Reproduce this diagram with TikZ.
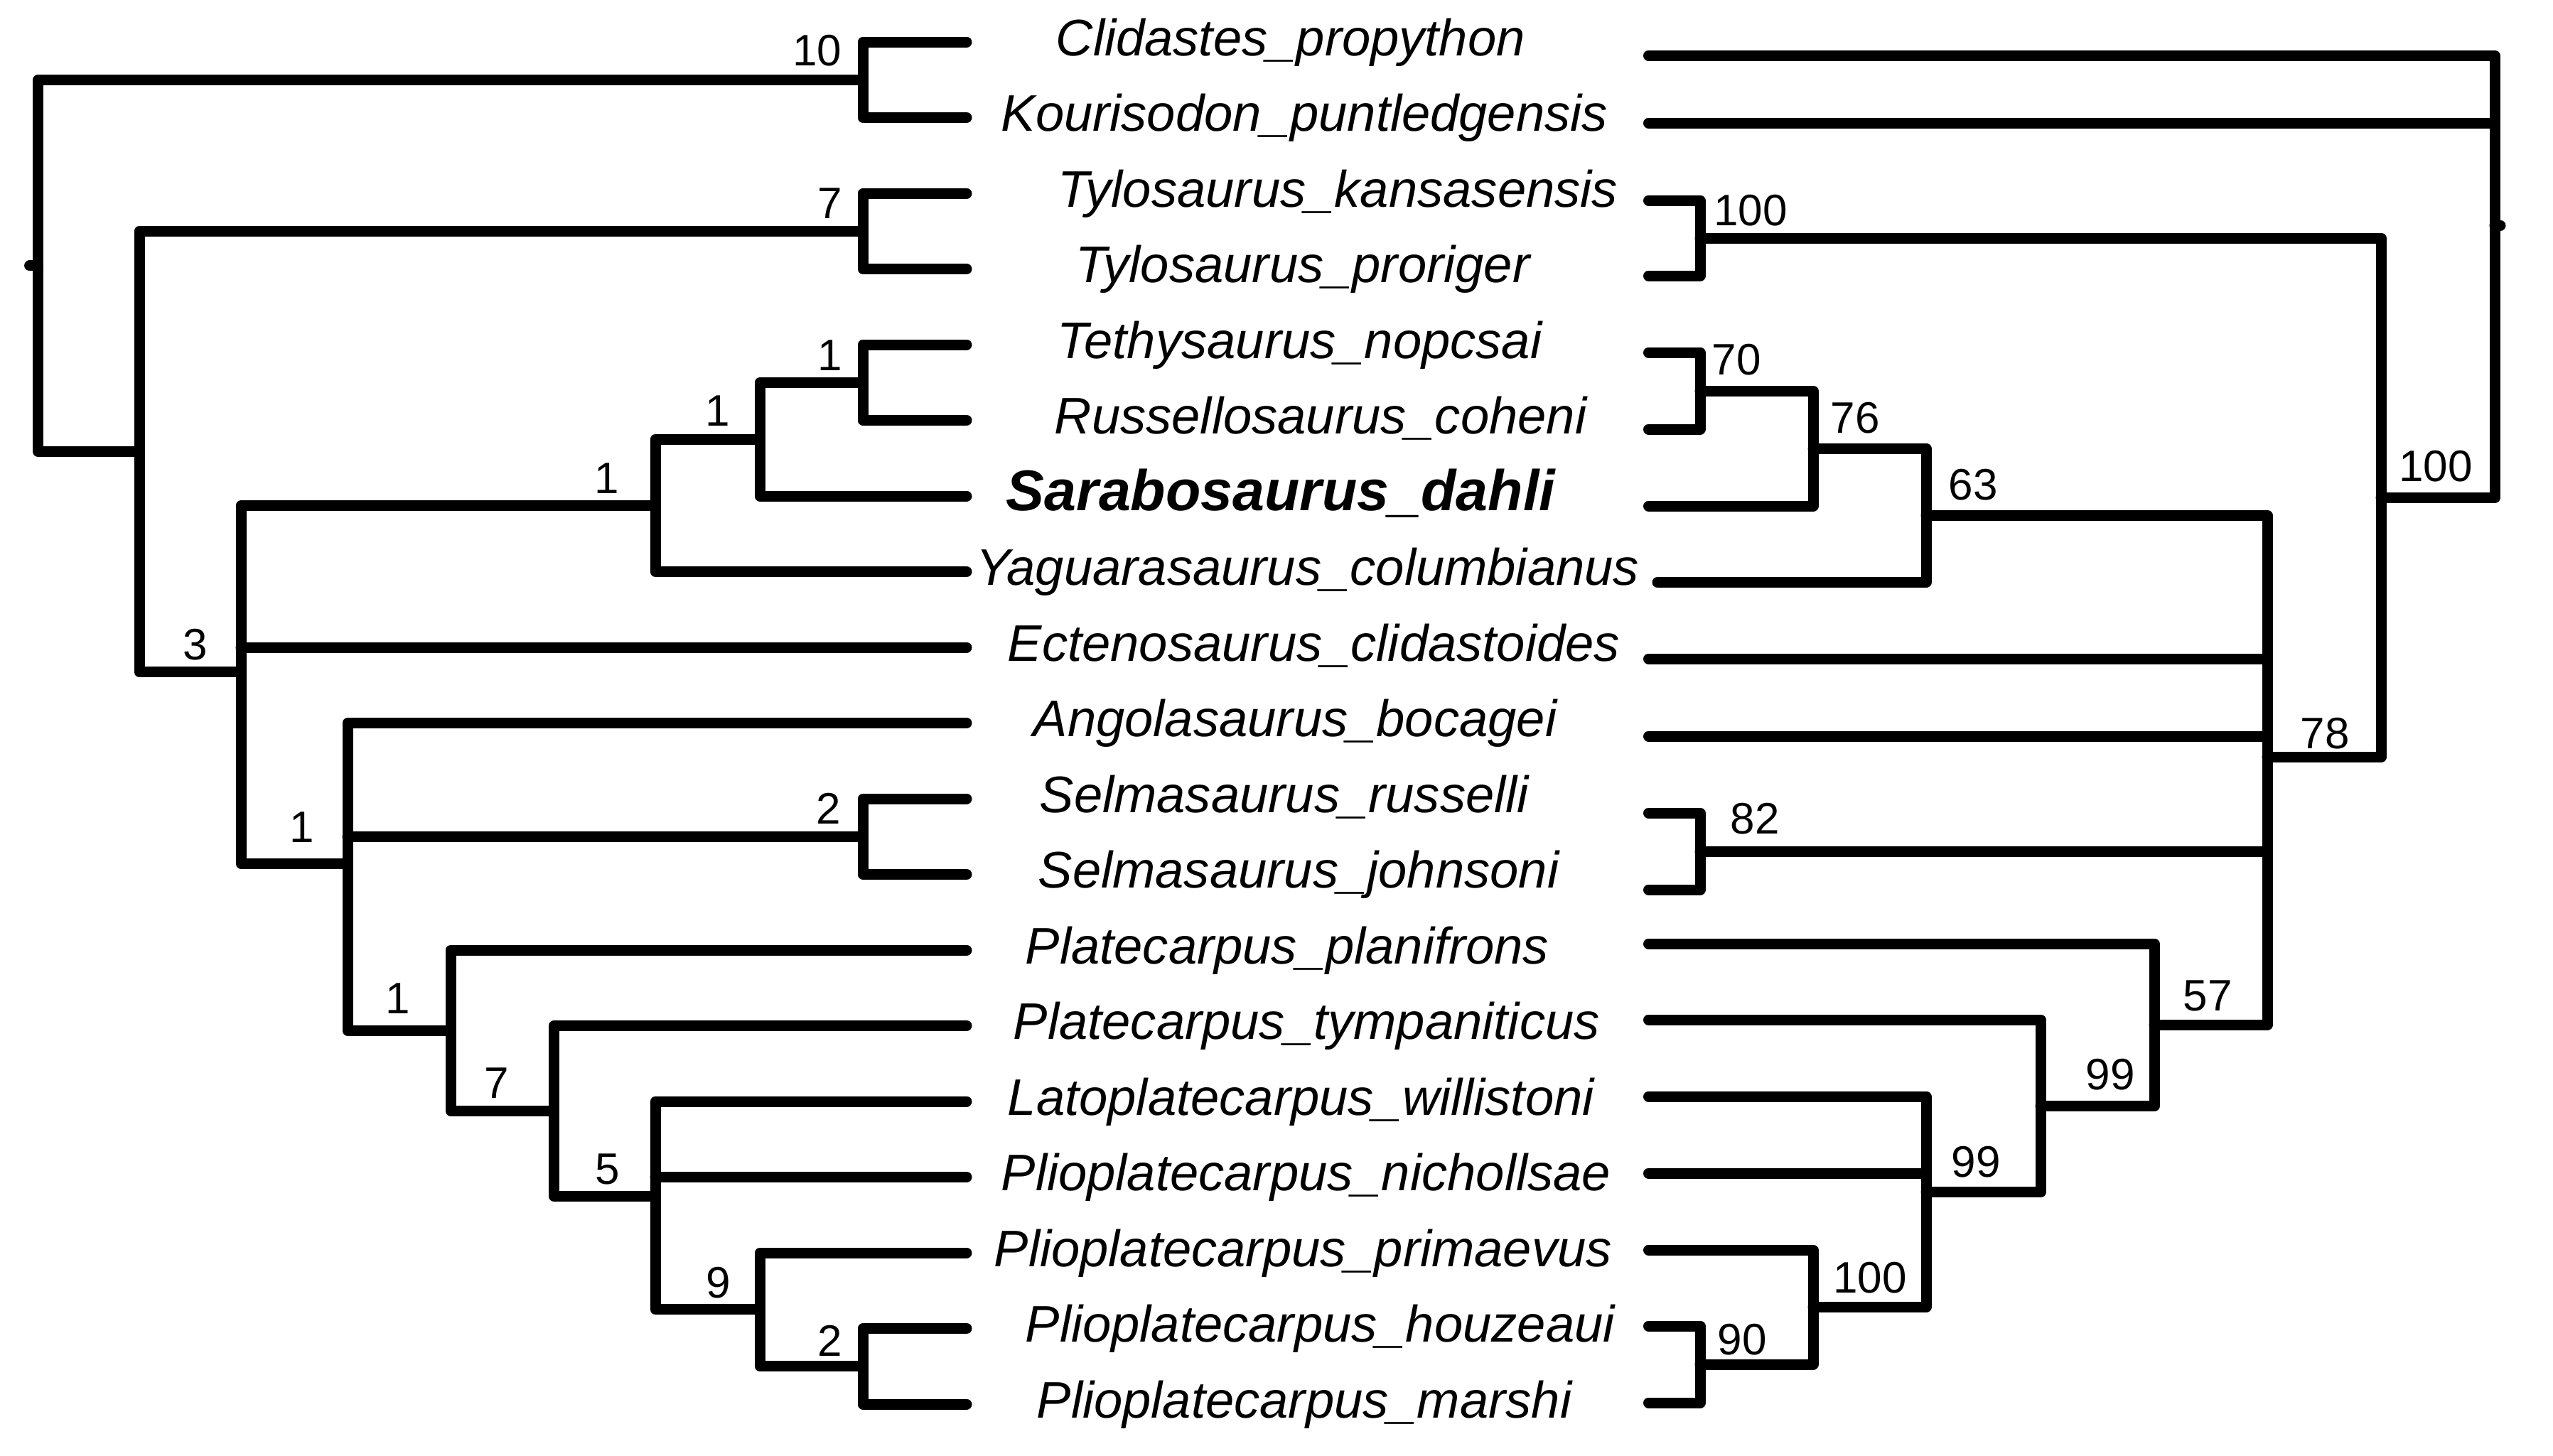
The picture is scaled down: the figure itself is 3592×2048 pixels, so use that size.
\documentclass[tikz,border=0pt]{standalone}
\usepackage{fontspec}
\setmainfont{Liberation Sans}

\begin{document}
\begin{tikzpicture}[x=0.25pt,y=-0.25pt,
	branch/.style={line width=3.75pt, line cap=round, line join=round},
	taxon/.style={anchor=base west, inner sep=0pt, font=\fontsize{18.1}{20}\selectfont\itshape},
	taxbold/.style={taxon, font=\fontsize{20.2}{22}\selectfont\bfseries\itshape},
	supp/.style={inner sep=0pt, font=\fontsize{15.5}{17}\selectfont}]
	\useasboundingbox (0,0) rectangle (3592,2048);

	\node[taxon] (nClid) at (1485,78) {Clidastes\_propython};
	\node[taxon] (nKour) at (1408,184.5) {Kourisodon\_puntledgensis};
	\node[taxon] (nTkans) at (1488,291) {Tylosaurus\_kansasensis};
	\node[taxon] (nTpror) at (1513,397.5) {Tylosaurus\_proriger};
	\node[taxon] (nTeth) at (1487,504) {Tethysaurus\_nopcsai};
	\node[taxon] (nRuss) at (1483,610.5) {Russellosaurus\_coheni};
	\node[taxbold] (nSarabo) at (1415,718) {Sarabosaurus\_dahli};
	\node[taxon] (nYagua) at (1373,823.5) {Yaguarasaurus\_columbianus};
	\node[taxon] (nEcten) at (1417,930) {Ectenosaurus\_clidastoides};
	\node[taxon] (nAngola) at (1453,1036.5) {Angolasaurus\_bocagei};
	\node[taxon] (nSelr) at (1462,1143) {Selmasaurus\_russelli};
	\node[taxon] (nSelj) at (1460,1249.5) {Selmasaurus\_johnsoni};
	\node[taxon] (nPlan) at (1442,1356) {Platecarpus\_planifrons};
	\node[taxon] (nTymp) at (1425,1462.5) {Platecarpus\_tympaniticus};
	\node[taxon] (nLato) at (1417,1569) {Latoplatecarpus\_willistoni};
	\node[taxon] (nNich) at (1408,1675.5) {Plioplatecarpus\_nichollsae};
	\node[taxon] (nPrim) at (1398,1782) {Plioplatecarpus\_primaevus};
	\node[taxon] (nHouz) at (1442,1888.5) {Plioplatecarpus\_houzeaui};
	\node[taxon] (nMarsh) at (1458,1995) {Plioplatecarpus\_marshi};

	\coordinate (lClid) at (1360,59);
	\coordinate (lKour) at (1360,165.5);
	\coordinate (lTkans) at (1360,272);
	\coordinate (lTpror) at (1360,378.5);
	\coordinate (lTeth) at (1360,485);
	\coordinate (lRuss) at (1360,591.5);
	\coordinate (lSarabo) at (1360,698);
	\coordinate (lYagua) at (1360,804.5);
	\coordinate (lEcten) at (1360,911);
	\coordinate (lAngola) at (1360,1017.5);
	\coordinate (lSelr) at (1360,1124);
	\coordinate (lSelj) at (1360,1230.5);
	\coordinate (lPlan) at (1360,1337);
	\coordinate (lTymp) at (1360,1443.5);
	\coordinate (lLato) at (1360,1550);
	\coordinate (lNich) at (1360,1656.5);
	\coordinate (lPrim) at (1360,1763);
	\coordinate (lHouz) at (1360,1869.5);
	\coordinate (lMarsh) at (1360,1976);

	\coordinate (lA) at (1214,112.25);
	\coordinate (lTy) at (1214,325.25);
	\coordinate (lG) at (1214,538.25);
	\coordinate (lF) at (1069,618.1);
	\coordinate (lD) at (922,711.3);
	\coordinate (lS) at (1214,1177.25);
	\coordinate (lL) at (1214,1922.75);
	\coordinate (lK) at (1069,1842.9);
	\coordinate (lJ) at (922,1683.1);
	\coordinate (lI) at (779,1563.3);
	\coordinate (lH) at (634,1450.2);
	\coordinate (lE) at (489,1215);
	\coordinate (lC) at (339,945.8);
	\coordinate (lB) at (196,635.5);
	\coordinate (lR) at (53.6,373.9);

	\draw[branch] (lClid) -| (lA) |- (lKour);
	\draw[branch] (lA) -| (lR) |- (lB);
	\draw[branch] (lR) -- ++(-12,0);
	\draw[branch] (lTkans) -| (lTy) |- (lTpror);
	\draw[branch] (lTy) -| (lB) |- (lC);
	\draw[branch] (lD) -| (lC) |- (lE);
	\draw[branch] (lC |- lEcten) -- (lEcten);
	\draw[branch] (lF) -| (lD) |- (lYagua);
	\draw[branch] (lG) -| (lF) |- (lSarabo);
	\draw[branch] (lTeth) -| (lG) |- (lRuss);
	\draw[branch] (lAngola) -| (lE) |- (lH);
	\draw[branch] (lE |- lS) -- (lS);
	\draw[branch] (lSelr) -| (lS) |- (lSelj);
	\draw[branch] (lPlan) -| (lH) |- (lI);
	\draw[branch] (lTymp) -| (lI) |- (lJ);
	\draw[branch] (lLato) -| (lJ) |- (lK);
	\draw[branch] (lJ |- lNich) -- (lNich);
	\draw[branch] (lPrim) -| (lK) |- (lL);
	\draw[branch] (lHouz) -| (lL) |- (lMarsh);

	\coordinate (rClid) at (2319.5,78);
	\coordinate (rKour) at (2319.5,173);
	\coordinate (rTkans) at (2319.5,282);
	\coordinate (rTpror) at (2319.5,388);
	\coordinate (rTeth) at (2319.5,496);
	\coordinate (rRuss) at (2319.5,604);
	\coordinate (rSarabo) at (2319.5,712);
	\coordinate (rYagua) at (2332,819.5);
	\coordinate (rEcten) at (2319.5,927);
	\coordinate (rAngola) at (2319.5,1036);
	\coordinate (rSelr) at (2319.5,1144);
	\coordinate (rSelj) at (2319.5,1252);
	\coordinate (rPlan) at (2319.5,1328);
	\coordinate (rTymp) at (2319.5,1435);
	\coordinate (rLato) at (2319.5,1543);
	\coordinate (rNich) at (2319.5,1651);
	\coordinate (rPrim) at (2319.5,1759);
	\coordinate (rHouz) at (2319.5,1866);
	\coordinate (rMarsh) at (2319.5,1974);

	\coordinate (rA) at (3510,317.1);
	\coordinate (rB) at (3350,700.35);
	\coordinate (rTy) at (2392,335);
	\coordinate (r70) at (2392,550);
	\coordinate (r76) at (2551,631);
	\coordinate (r63) at (2710,725.25);
	\coordinate (r78) at (3190,1065.7);
	\coordinate (r82) at (2392,1198);
	\coordinate (r57) at (3031,1442.2);
	\coordinate (r99a) at (2871,1556.4);
	\coordinate (r99b) at (2710,1677.8);
	\coordinate (r100b) at (2551,1839.5);
	\coordinate (r90) at (2392,1920);

	\draw[branch] (rClid) -| (rA) |- (rB);
	\draw[branch] (rA |- rKour) -- (rKour);
	\draw[branch] (rA) -- ++(8,0);
	\draw[branch] (rTy) -| (rB) |- (r78);
	\draw[branch] (rTkans) -| (rTy) |- (rTpror);
	\draw[branch] (rTeth) -| (r70) |- (rRuss);
	\draw[branch] (r70) -| (r76) |- (rSarabo);
	\draw[branch] (r76) -| (r63) |- (rYagua);
	\draw[branch] (r63) -| (r78) |- (r57);
	\draw[branch] (r78 |- rEcten) -- (rEcten);
	\draw[branch] (r78 |- rAngola) -- (rAngola);
	\draw[branch] (r78 |- r82) -- (r82);
	\draw[branch] (rSelr) -| (r82) |- (rSelj);
	\draw[branch] (rPlan) -| (r57) |- (r99a);
	\draw[branch] (rTymp) -| (r99a) |- (r99b);
	\draw[branch] (rLato) -| (r99b) |- (r100b);
	\draw[branch] (r99b |- rNich) -- (rNich);
	\draw[branch] (rPrim) -| (r100b) |- (r90);
	\draw[branch] (rHouz) -| (r90) |- (rMarsh);

	\node[supp] (sA) at (1150,71) {10};
	\node[supp] (sTy) at (1168,286) {7};
	\node[supp] (sG) at (1168,500) {1};
	\node[supp] (sF) at (1010,578) {1};
	\node[supp] (sD) at (854,673) {1};
	\node[supp] (sC) at (275,907) {3};
	\node[supp] (sE) at (425,1164) {1};
	\node[supp] (sS) at (1166,1138) {2};
	\node[supp] (sH) at (560,1405) {1};
	\node[supp] (sI) at (699,1524) {7};
	\node[supp] (sJ) at (855,1645) {5};
	\node[supp] (sK) at (1011,1805) {9};
	\node[supp] (sL) at (1168,1887) {2};

	\node[supp] (tTy) at (2463,296) {100};
	\node[supp] (t70) at (2443,506) {70};
	\node[supp] (t76) at (2610,588) {76};
	\node[supp] (t63) at (2776,682) {63};
	\node[supp] (tB) at (3427,656) {100};
	\node[supp] (t78) at (3271,1032) {78};
	\node[supp] (t82) at (2469,1152) {82};
	\node[supp] (t57) at (3106,1401) {57};
	\node[supp] (t99a) at (2969,1512) {99};
	\node[supp] (t99b) at (2780,1635) {99};
	\node[supp] (t100b) at (2631,1798) {100};
	\node[supp] (t90) at (2451,1885) {90};
\end{tikzpicture}
\end{document}
